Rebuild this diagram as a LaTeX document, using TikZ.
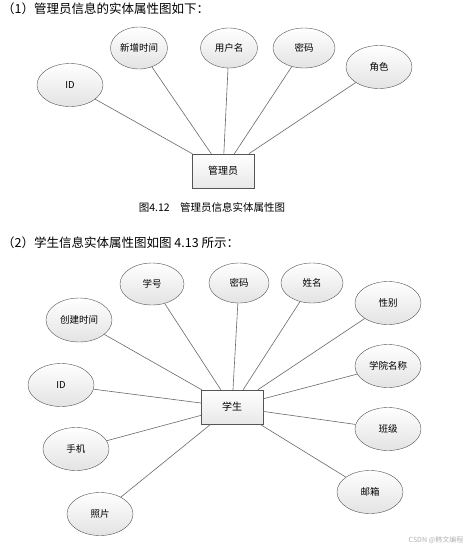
\documentclass[tikz,border=0pt]{standalone}
\usepackage{fontspec}
\setmainfont{Noto Sans CJK SC}
\usetikzlibrary{shapes.geometric,shadows}
\definecolor{linegray}{RGB}{105,105,105}
\definecolor{edgegray}{RGB}{85,85,85}
\tikzset{
  attr/.style={draw=edgegray, ellipse, top color=white, bottom color=black!11,
    inner sep=0pt, minimum width=66pt, minimum height=43pt,
    font=\fontsize{9.5}{11}\selectfont},
  entity/.style={draw=edgegray, rectangle, top color=white, bottom color=black!9,
    minimum width=62pt, minimum height=34pt,
    drop shadow={opacity=0.25, shadow xshift=1.2pt, shadow yshift=-1.2pt},
    font=\fontsize{10}{12}\selectfont},
  link/.style={draw=linegray, line width=0.6pt},
  title/.style={anchor=west, inner sep=0pt, font=\fontsize{12.5}{14}\selectfont}
}
\begin{document}
\begin{tikzpicture}[x=1pt,y=-1pt]
\useasboundingbox[fill=white] (0,0) rectangle (474,550);

% admin
\node[title] (t1) at (2,9) {（1）管理员信息的实体属性图如下：};
\node[attr] (a1) at (70,85) {ID};
\node[attr, minimum width=57pt, minimum height=42pt] (a2) at (139,48) {新增时间};
\node[attr, minimum width=57pt, minimum height=40pt] (a3) at (229,48) {用户名};
\node[attr, minimum width=62pt, minimum height=40pt] (a4) at (304,48) {密码};
\node[attr] (a5) at (379,67) {角色};
\node[entity] (admin) at (223,171) {管理员};
\node[font=\fontsize{10.5}{12}\selectfont] (c1) at (212,207) {图4.12\quad 管理员信息实体属性图};

\path[link] (a1) -- (admin);
\path[link] (a2) -- (admin);
\path[link] (a3) -- (admin);
\path[link] (a4) -- (admin);
\path[link] (a5) -- (admin);

% student
\node[title] (t2) at (2,243) {（2）学生信息实体属性图如图 4.13 所示：};
\node[attr, minimum width=64pt, minimum height=42pt] (s1) at (152,284) {学号};
\node[attr, minimum width=60pt, minimum height=40pt] (s2) at (239,283) {密码};
\node[attr, minimum width=62pt, minimum height=40pt] (s3) at (312,283) {姓名};
\node[attr] (s4) at (388,303) {性别};
\node[attr, minimum height=44pt] (s5) at (79,320) {创建时间};
\node[attr] (s6) at (388,366) {学院名称};
\node[attr] (s7) at (61,385) {ID};
\node[attr] (s8) at (388,429) {班级};
\node[attr] (s9) at (76,449) {手机};
\node[attr] (s10) at (370,492) {邮箱};
\node[attr] (s11) at (100,514) {照片};
\node[entity] (stu) at (232,407) {学生};

\path[link] (s1) -- (stu);
\path[link] (s2) -- (stu);
\path[link] (s3) -- (stu);
\path[link] (s4) -- (stu);
\path[link] (s5) -- (stu);
\path[link] (s6) -- (stu);
\path[link] (s7) -- (stu);
\path[link] (s8) -- (stu);
\path[link] (s9) -- (stu);
\path[link] (s10) -- (stu);
\path[link] (s11) -- (stu);

\node[text=black!30, font=\fontsize{7}{8}\selectfont] (wm) at (436,540) {CSDN @韩文编程};
\end{tikzpicture}
\end{document}
